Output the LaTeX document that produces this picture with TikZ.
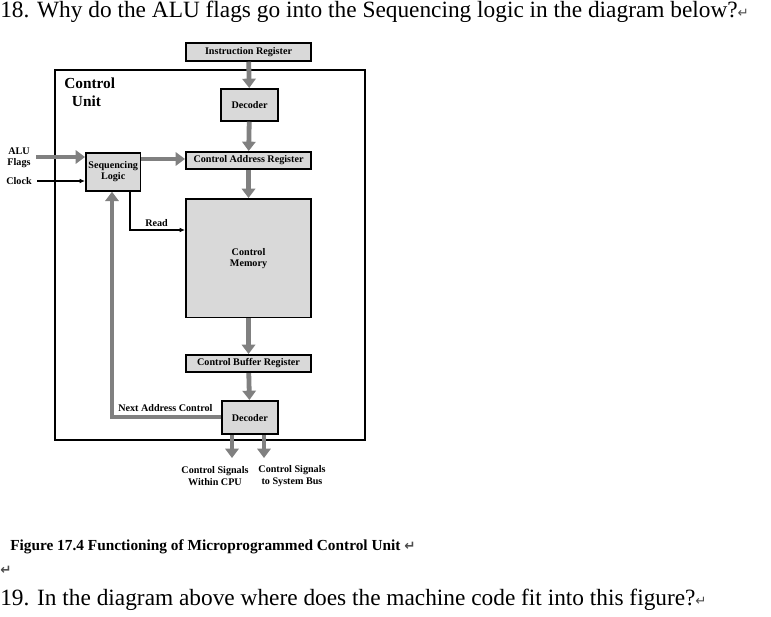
\documentclass[tikz,border=0pt]{standalone}
\usepackage{fontspec}
\setmainfont{Liberation Serif}
\newfontfamily\symfont{DejaVu Sans}
\usepackage{tikz}
\usetikzlibrary{arrows.meta}
\newcommand{\ret}{{\symfont\color{black!70}\fontsize{10}{10}\selectfont ↵}}

\begin{document}
\begin{tikzpicture}[
  x=0.75pt, y=-0.75pt,
  every node/.style={font=\bfseries\fontsize{7.6}{8.4}\selectfont, align=center, inner sep=0pt},
  box/.style={draw, line width=1.3pt, fill=black!15, anchor=north west},
  flow/.style={draw=black!50, line width=3.6pt, -{Triangle[width=10pt,length=7pt]}},
  wire/.style={line width=0.9pt, -{Latex[length=4pt,width=3.5pt]}}
]
\useasboundingbox (0,0) rectangle (771,617);
% question texts
\node[anchor=west, font=\fontsize{17.5}{19}\selectfont] (q18) at (0,12) {18. Why do the ALU flags go into the Sequencing logic in the diagram below?\ret};
\node[anchor=west, font=\fontsize{17.5}{19}\selectfont] (q19) at (0,600) {19. In the diagram above where does the machine code fit into this figure?\ret};
\node[anchor=west, font=\bfseries\fontsize{11.5}{13}\selectfont] (cap) at (10,547) {Figure 17.4 Functioning of Microprogrammed Control Unit \ret};
\node[anchor=west] (blank) at (0,570) {\ret};

% control unit frame
\draw[line width=1.3pt] (55,70) rectangle (365,440);
\node[anchor=north west, font=\bfseries\fontsize{11.5}{13.5}\selectfont, align=left] (cu) at (64,78) {Control\\\ \ Unit};

% boxes
\node[box, minimum width=94pt, minimum height=13.5pt] (ir) at (185,42) {Instruction Register};
\node[box, minimum width=43pt, minimum height=24pt] (dec1) at (220,88) {Decoder};
\node[box, minimum width=94pt, minimum height=13pt] (car) at (185,151) {Control Address Register};
\node[box, minimum width=41pt, minimum height=28.5pt] (seq) at (85,152) {Sequencing\\Logic};
\node[box, minimum width=94pt, minimum height=89pt] (cm) at (185,198) {Control\\Memory};
\node[box, minimum width=94pt, minimum height=13pt] (cbr) at (185,354) {Control Buffer Register};
\node[box, minimum width=42pt, minimum height=25pt] (dec2) at (221,400) {Decoder};

% side labels
\node (alu) at (19,158) {ALU\\Flags};
\node (clk) at (19,181) {Clock};
\node[anchor=south west] (rd) at (145,227) {Read};
\node[anchor=south west] (nac) at (118,412) {Next Address Control};
\node (out1) at (215,476) {Control Signals\\Within CPU};
\node (out2) at (292,476) {Control Signals\\to System Bus};
\coordinate (o1) at (232,458);
\coordinate (o2) at (264,458);

% gray flows
\draw[flow] (ir) -- (dec1);
\draw[flow] (dec1) -- (car);
\draw[flow] (car) -- (cm);
\draw[flow] (cm) -- (cbr);
\draw[flow] (cbr) -- (dec2);
\draw[flow] (seq.east |- 0,159) -- (car.west |- 0,159);
\draw[flow] ([xshift=4pt]alu.east |- 0,157) -- (seq.west |- 0,157);
\draw[flow] (dec2.west |- 0,417) -| (112,417) -- (seq.south -| 112,0);
\draw[flow] (dec2.south -| o1) -- (o1);
\draw[flow] (dec2.south -| o2) -- (o2);

% black wires
\draw[wire] ([xshift=4pt]clk.east |- 0,181) -- (seq.west |- 0,181);
\draw[wire] (seq.south -| 130,0) |- (cm.west |- 0,230);
\end{tikzpicture}
\end{document}
